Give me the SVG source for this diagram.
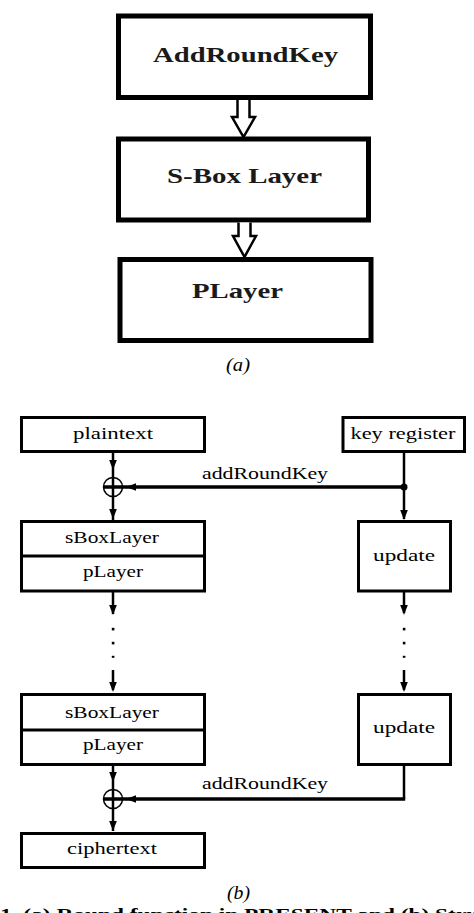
<svg xmlns="http://www.w3.org/2000/svg" xmlns:xlink="http://www.w3.org/1999/xlink" width="474" height="913" viewBox="0 0 474 913">
<style>
  .bigbox { fill: #fff; stroke: #000; stroke-width: 5; }
  .big { font-family: "Liberation Serif", "Times New Roman", serif; font-weight: bold; font-size: 22px; fill: #1a1a1a; text-anchor: middle; }
  .cap { font-family: "Liberation Serif", "Times New Roman", serif; font-style: italic; font-size: 18px; fill: #000; text-anchor: middle; }
  .fig { font-family: "Liberation Serif", "Times New Roman", serif; font-weight: bold; font-size: 17px; fill: #000; }
  .box { fill: #fff; stroke: #000; stroke-width: 3; }
  .lbl { font-family: "Liberation Serif", "Times New Roman", serif; font-size: 16px; fill: #000; text-anchor: middle; }
  .ln { fill: none; stroke: #000; stroke-width: 2.5; }
  .hl { fill: none; stroke: #000; stroke-width: 3.5; }
  .xor { fill: none; stroke: #000; stroke-width: 1.5; }
  .hollow { fill: #fff; stroke: #000; stroke-width: 2.5; stroke-linejoin: miter; }
</style>
<defs>
  <path id="ad" d="M-3.8,-10 L3.8,-10 L0,0 Z" fill="#000"/>
  <path id="al" d="M10,-3.8 L10,3.8 L0,0 Z" fill="#000"/>
</defs>
<rect width="474" height="913" fill="#fff"/>

<!-- Part (a) -->
<g id="a-addroundkey">
  <rect class="bigbox" x="118.5" y="16" width="252" height="81.5"/>
  <text class="big" x="245.5" y="62" textLength="185" lengthAdjust="spacingAndGlyphs">AddRoundKey</text>
</g>
<g id="a-sbox">
  <rect class="bigbox" x="118.5" y="139" width="250" height="81"/>
  <text class="big" x="244.5" y="183" textLength="155" lengthAdjust="spacingAndGlyphs">S-Box Layer</text>
</g>
<g id="a-player">
  <rect class="bigbox" x="120" y="259.5" width="251" height="81"/>
  <text class="big" x="237.5" y="298" textLength="91" lengthAdjust="spacingAndGlyphs">PLayer</text>
</g>
<g id="a-connectors">
  <path class="hollow" d="M237.5,100 V117 H232 L243.5,137 L255,117 H249.5 V100"/>
  <path class="hollow" d="M238.5,222.5 V236 H233 L244.5,257 L256,236 H250.5 V222.5"/>
</g>
<text class="cap" x="238" y="371" textLength="24" lengthAdjust="spacingAndGlyphs">(a)</text>

<!-- Part (b) -->
<g id="b-plaintext">
  <rect class="box" x="21.5" y="417.5" width="183" height="34"/>
  <text class="lbl" x="113" y="439" textLength="80" lengthAdjust="spacingAndGlyphs">plaintext</text>
</g>
<g id="b-keyregister">
  <rect class="box" x="343" y="417.5" width="121.5" height="34"/>
  <text class="lbl" x="403" y="439" textLength="105" lengthAdjust="spacingAndGlyphs">key register</text>
</g>
<g id="b-round1">
  <rect class="box" x="21.5" y="521.5" width="183" height="69.5"/>
  <line class="box" x1="21.5" y1="556" x2="204.5" y2="556"/>
  <text class="lbl" x="112" y="543" textLength="94" lengthAdjust="spacingAndGlyphs">sBoxLayer</text>
  <text class="lbl" x="113" y="577" textLength="60" lengthAdjust="spacingAndGlyphs">pLayer</text>
</g>
<g id="b-update1">
  <rect class="box" x="358.5" y="521.5" width="92" height="69.5"/>
  <text class="lbl" x="404" y="561" textLength="62" lengthAdjust="spacingAndGlyphs">update</text>
</g>
<g id="b-round2">
  <rect class="box" x="21.5" y="694.5" width="183" height="70"/>
  <line class="box" x1="21.5" y1="730" x2="204.5" y2="730"/>
  <text class="lbl" x="112" y="718" textLength="94" lengthAdjust="spacingAndGlyphs">sBoxLayer</text>
  <text class="lbl" x="113" y="750" textLength="60" lengthAdjust="spacingAndGlyphs">pLayer</text>
</g>
<g id="b-update2">
  <rect class="box" x="358.5" y="694.5" width="92" height="70"/>
  <text class="lbl" x="404" y="733" textLength="62" lengthAdjust="spacingAndGlyphs">update</text>
</g>
<g id="b-ciphertext">
  <rect class="box" x="21.5" y="833.5" width="183" height="34"/>
  <text class="lbl" x="112" y="854" textLength="90" lengthAdjust="spacingAndGlyphs">ciphertext</text>
</g>
<g id="b-xor1">
  <circle class="xor" cx="113" cy="487" r="9.5"/>
</g>
<g id="b-xor2">
  <circle class="xor" cx="113" cy="799" r="9.5"/>
</g>

<g id="b-connectors">
  <!-- left column -->
  <line class="ln" x1="113" y1="453" x2="113" y2="520"/>
  <use xlink:href="#ad" x="113" y="470"/>
  <use xlink:href="#ad" x="113" y="519"/>
  <line class="ln" x1="113" y1="592" x2="113" y2="614"/>
  <use xlink:href="#ad" x="113" y="615"/>
  <rect x="111.8" y="627.8" width="2.6" height="2.6" fill="#000"/>
  <rect x="111.8" y="641.8" width="2.6" height="2.6" fill="#000"/>
  <rect x="111.8" y="655.8" width="2.6" height="2" fill="#000"/>
  <line class="ln" x1="113" y1="670" x2="113" y2="690"/>
  <use xlink:href="#ad" x="113" y="692"/>
  <line class="ln" x1="113" y1="766" x2="113" y2="831"/>
  <use xlink:href="#ad" x="113" y="782"/>
  <use xlink:href="#ad" x="113" y="831"/>
  <!-- right column -->
  <line class="ln" x1="404" y1="453" x2="404" y2="519"/>
  <use xlink:href="#ad" x="404" y="520"/>
  <circle cx="404" cy="487" r="3.5" fill="#000"/>
  <line class="ln" x1="404" y1="592" x2="404" y2="613"/>
  <use xlink:href="#ad" x="404" y="615"/>
  <rect x="402.8" y="627.8" width="2.6" height="2.6" fill="#000"/>
  <rect x="402.8" y="641.8" width="2.6" height="2.6" fill="#000"/>
  <rect x="402.8" y="655.8" width="2.6" height="2" fill="#000"/>
  <line class="ln" x1="404" y1="670" x2="404" y2="690"/>
  <use xlink:href="#ad" x="404" y="692"/>
  <!-- addRoundKey lines -->
  <line class="hl" x1="404" y1="487" x2="104" y2="487"/>
  <use xlink:href="#al" x="126" y="487"/>
  <polyline class="ln" points="404,766 404,799"/>
  <line class="hl" x1="405.2" y1="799" x2="104" y2="799"/>
  <use xlink:href="#al" x="126" y="799"/>
  <text class="lbl" x="265" y="479" textLength="126" lengthAdjust="spacingAndGlyphs">addRoundKey</text>
  <text class="lbl" x="265" y="789" textLength="126" lengthAdjust="spacingAndGlyphs">addRoundKey</text>
</g>

<text class="cap" x="238.5" y="899" textLength="23" lengthAdjust="spacingAndGlyphs">(b)</text>
<text class="fig" x="0" y="920" textLength="556" lengthAdjust="spacingAndGlyphs">1. (a) Round function in PRESENT and (b) Structure of</text>
</svg>
